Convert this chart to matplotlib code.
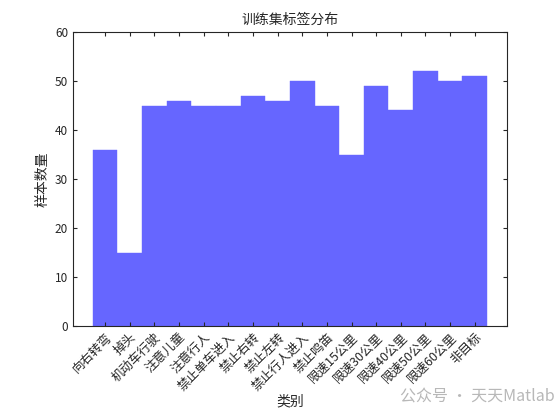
import matplotlib
matplotlib.use("Agg")
import matplotlib.pyplot as plt
import numpy as np

plt.rcParams['font.family'] = ['Noto Sans CJK SC', 'DejaVu Sans']

categories = ['向右转弯', '掉头', '机动车行驶', '注意儿童', '注意行人', '禁止单车进入',
              '禁止右转', '禁止左转', '禁止行人进入', '禁止鸣笛', '限速15公里', '限速30公里',
              '限速40公里', '限速50公里', '限速60公里', '非目标']
counts = [36, 15, 45, 46, 45, 45, 47, 46, 50, 45, 35, 49, 44, 52, 50, 51]
yticks = [0, 10, 20, 30, 40, 50, 60]

fig = plt.figure(figsize=(5.6, 4.2), dpi=100)
ax = fig.add_axes([0.1304, 0.2238, 0.7746, 0.7])

x = np.arange(1, len(categories) + 1)
ax.bar(x, counts, width=1.0, color='#6666ff', edgecolor='#6666ff', linewidth=0.3)

ax.set_xlim(-0.3, len(categories) + 1.3)
ax.set_ylim(0, 60)
ax.set_yticks(yticks)
ax.set_xticks(x)
ax.set_xticklabels(categories, rotation=45, ha='right', rotation_mode='anchor', fontsize=9)
ax.tick_params(direction='in', top=True, right=True, length=3, width=0.8, labelsize=8.5, colors='#262626')
for lbl in ax.get_xticklabels():
    lbl.set_color('#262626')
    lbl.set_fontsize(9)
for s in ax.spines.values():
    s.set_linewidth(0.8)
    s.set_color('#262626')
    s.set_zorder(5)

ax.set_title('训练集标签分布', fontsize=10, color='#262626', pad=6)
ax.set_ylabel('样本数量', fontsize=10, color='#262626')
ax.set_xlabel('类别', fontsize=10, color='#262626', labelpad=1)

fig.text(0.715, 0.055, '公众号 · 天天Matlab', fontsize=11.5, color='#b8b8b8', ha='left', va='center')

fig.savefig('out.png', dpi=100)
